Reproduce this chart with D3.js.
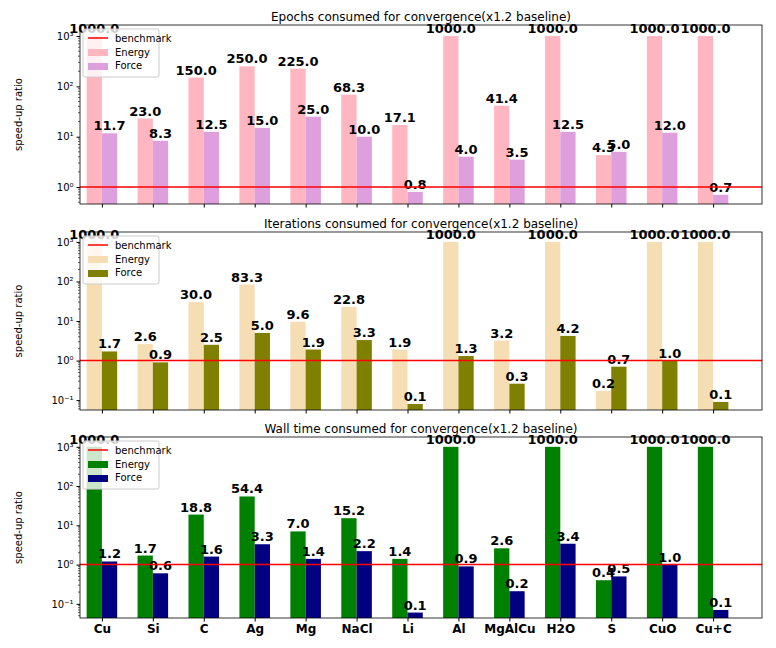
<!DOCTYPE html><html><head><meta charset="utf-8"><script src="https://d3js.org/d3.v7.min.js"></script>
<style>body{margin:0;background:#fff}text{font-family:"DejaVu Sans",sans-serif}</style></head><body><svg id="c" width="776" height="648"></svg><script>
const categories=["Cu","Si","C","Ag","Mg","NaCl","Li","Al","MgAlCu","H2O","S","CuO","Cu+C"];
const titles=["Epochs consumed for convergence(x1.2 baseline)","Iterations consumed for convergence(x1.2 baseline)","Wall time consumed for convergence(x1.2 baseline)"];
const energy1=[1000,23.0,150.0,250.0,225.0,68.3,17.1,1000,41.4,1000,4.3,1000,1000];
const force1=[11.7,8.3,12.5,15.0,25.0,10.0,0.8,4.0,3.5,12.5,5.0,12.0,0.7];
const energy2=[1000,2.6,30.0,83.3,9.6,22.8,1.9,1000,3.2,1000,0.17,1000,1000];
const force2=[1.7,0.9,2.5,5.0,1.9,3.3,0.08,1.3,0.26,4.2,0.7,1.0,0.09];
const energy3=[1000,1.7,18.8,54.4,7.0,15.2,1.4,1000,2.6,1000,0.4,1000,1000];
const force3=[1.2,0.6,1.6,3.3,1.4,2.2,0.06,0.9,0.21,3.4,0.5,1.0,0.07];
const panels=[
 {t:titles[0],e:energy1,f:force1,ec:"#ffb6c1",fc:"#dda0dd",top:25,bot:204,dom:[0.46,10**3.22],ticks:[1,10,100,1000]},
 {t:titles[1],e:energy2,f:force2,ec:"#f5deb3",fc:"#808000",top:232,bot:410,dom:[10**-1.25,10**3.25],ticks:[0.1,1,10,100,1000]},
 {t:titles[2],e:energy3,f:force3,ec:"#008000",fc:"#000080",top:437,bot:618,dom:[10**-1.36,10**3.25],ticks:[0.1,1,10,100,1000]}];
const svg=d3.select("#c");
const L=80,R=762;
const x=d3.scaleLinear().domain([-0.43,12.96]).range([L,R]);
const bw=x(0.3)-x(0);
const sup={"-":"⁻","0":"⁰","1":"¹","2":"²","3":"³"};
panels.forEach((p,pi)=>{
 const y=d3.scaleLog().domain(p.dom).range([p.bot,p.top]);
 const g=svg.append("g");
 const cl="clip"+pi;
 g.append("clipPath").attr("id",cl).append("rect").attr("x",L).attr("y",p.top).attr("width",R-L).attr("height",p.bot-p.top);
 const bars=g.append("g").attr("clip-path",`url(#${cl})`);
 [[p.e,p.ec,-0.15],[p.f,p.fc,0.15]].forEach(([vals,col,off])=>{
  bars.selectAll(null).data(vals).join("rect").attr("x",(d,i)=>x(i+off)-bw/2).attr("width",bw)
   .attr("y",d=>y(d)).attr("height",d=>p.bot-y(d)).attr("fill",col);
  g.selectAll(null).data(vals).join("text").attr("x",(d,i)=>x(i+off)).attr("y",d=>y(d)-3)
   .attr("text-anchor","middle").attr("font-size",13).attr("font-weight","bold").text(d=>d.toFixed(1));
 });
 g.append("line").attr("x1",L).attr("x2",R).attr("y1",y(1)).attr("y2",y(1)).attr("stroke","red").attr("stroke-width",1.5);
 g.append("rect").attr("x",L).attr("y",p.top).attr("width",R-L).attr("height",p.bot-p.top).attr("fill","none").attr("stroke","#000").attr("stroke-width",0.8);
 const ax=g.append("g").attr("transform",`translate(${L},0)`).call(d3.axisLeft(y).tickValues(p.ticks).tickSize(3.5).tickFormat(d=>"10"+String(Math.round(Math.log10(d))).split("").map(c=>sup[c]).join("")));
 ax.select(".domain").remove();ax.selectAll("text").attr("font-size",10);
 const minor=[];for(let e=-2;e<4;e++)for(let k=2;k<10;k++){const v=k*10**e;if(v>p.dom[0]&&v<p.dom[1])minor.push(v);}
 g.selectAll(null).data(minor).join("line").attr("x1",L-2).attr("x2",L).attr("y1",d=>y(d)).attr("y2",d=>y(d)).attr("stroke","#000").attr("stroke-width",0.6);
 g.append("text").attr("transform",`translate(22,${(p.top+p.bot)/2}) rotate(-90)`).attr("text-anchor","middle").attr("font-size",10).text("speed-up ratio");
 g.append("text").attr("x",(L+R)/2).attr("y",p.top-4).attr("text-anchor","middle").attr("font-size",12).text(p.t);
 const lg=g.append("g").attr("transform",`translate(${L+3},${p.top+4})`);
 lg.append("rect").attr("width",76).attr("height",48).attr("fill","#fff").attr("fill-opacity",0.8).attr("stroke","#ccc").attr("rx",2);
 lg.append("line").attr("x1",5).attr("x2",25).attr("y1",9).attr("y2",9).attr("stroke","red").attr("stroke-width",1.5);
 lg.append("rect").attr("x",5).attr("y",20).attr("width",20).attr("height",7).attr("fill",p.ec);
 lg.append("rect").attr("x",5).attr("y",34).attr("width",20).attr("height",7).attr("fill",p.fc);
 ["benchmark","Energy","Force"].forEach((s,i)=>lg.append("text").attr("x",32).attr("y",13+i*13.5).attr("font-size",10).text(s));
 const xa=g.append("g").attr("transform",`translate(0,${p.bot})`).call(d3.axisBottom(x).tickValues(d3.range(13)).tickSize(3.5).tickFormat(i=>pi==2?categories[i]:""));
 xa.select(".domain").remove();xa.selectAll("text").attr("font-size",12).attr("font-weight","bold");
});
</script></body></html>
